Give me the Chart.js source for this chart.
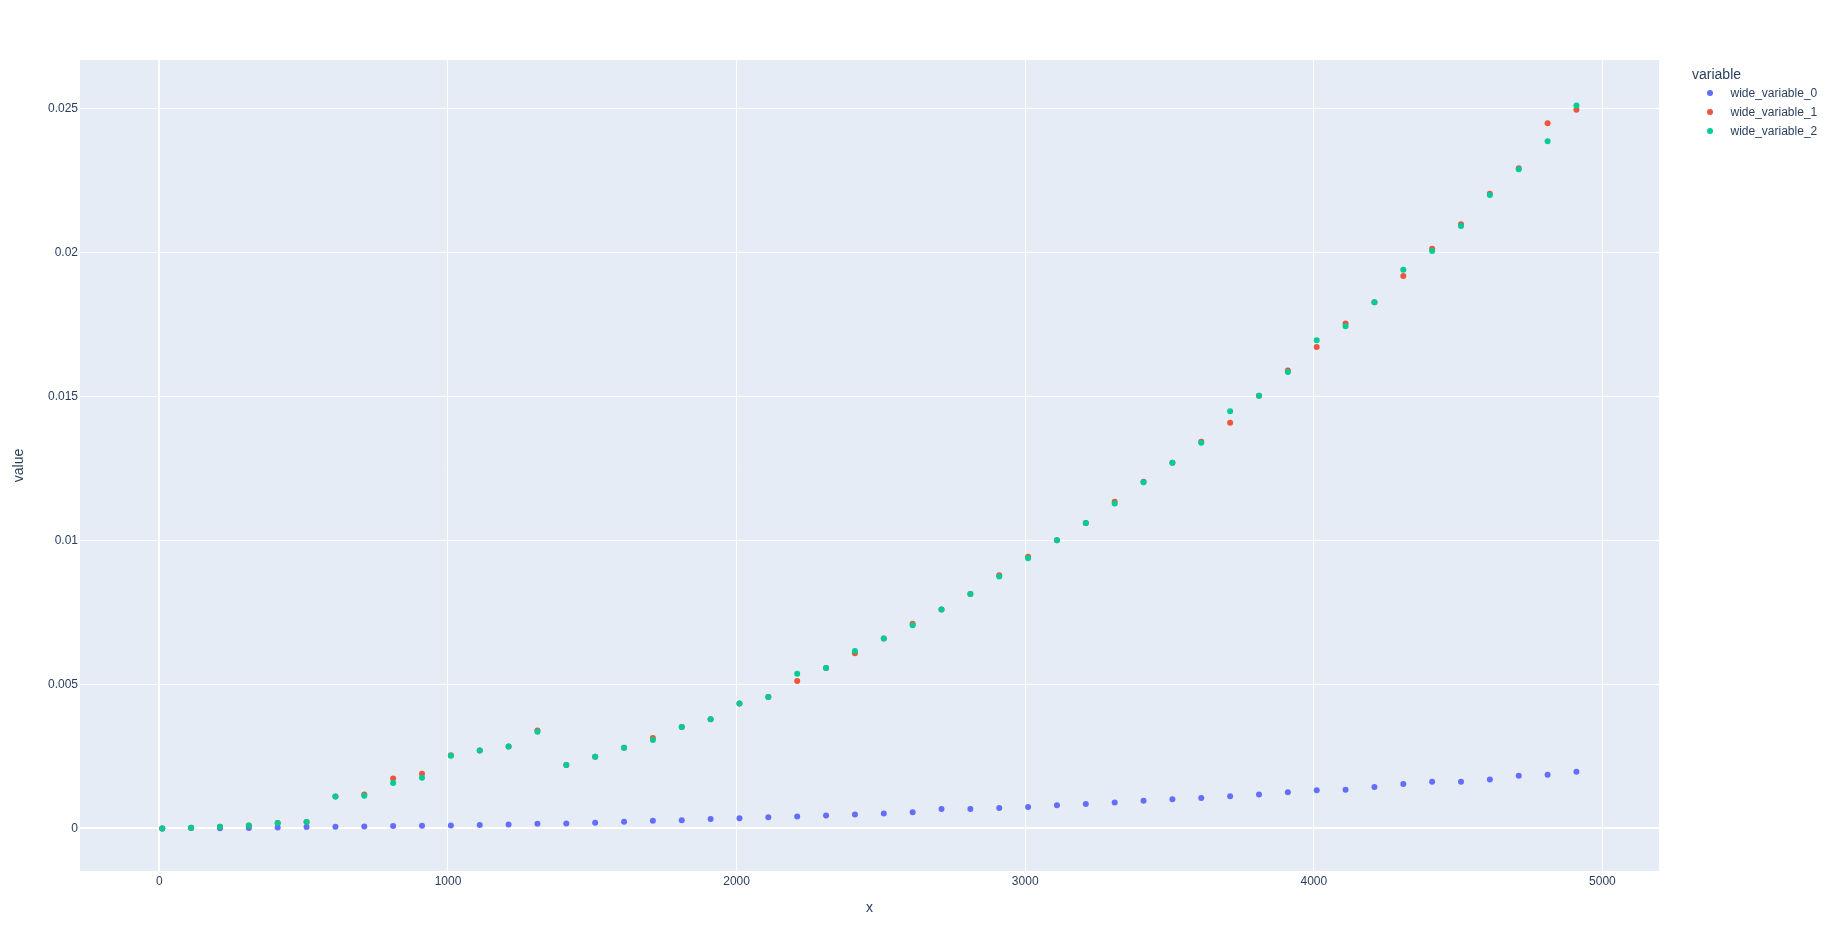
<!DOCTYPE html>
<html lang="en">
<head>
    <meta charset="UTF-8">
    <script src="https://cdn.jsdelivr.net/npm/chart.js@4.4.1/dist/chart.umd.min.js"></script>
    <style>
        body {
            margin: 0;
            background: #fff;
        }

        .chart-wrap {
            position: relative;
            width: 1836px;
            height: 952px;
        }

        .legend {
            position: absolute;
            left: 1692px;
            top: 64px;
            font-family: "Liberation Sans", Arial, sans-serif;
            color: #2a3f5f;
        }

        .legend-title {
            font-size: 14px;
            line-height: 20px;
            height: 20px;
            white-space: nowrap;
        }

        .legend-item {
            position: relative;
            font-size: 12px;
            height: 18.8px;
            line-height: 18.8px;
            padding-left: 38.5px;
            white-space: nowrap;
        }

        .legend-item .dot {
            position: absolute;
            left: 15.3px;
            top: 6.4px;
            width: 6px;
            height: 6px;
            border-radius: 50%;
        }
    </style>
    <title>value vs x</title>
</head>
<body>
    <div class="chart-wrap">
        <canvas id="chartCanvas"></canvas>
        <div class="legend" id="legend">
            <div class="legend-title">variable</div>
        </div>
    </div>

    <script>
        // x positions shared by all three series
        const xValues = [
            10, 110, 210, 310, 410, 510, 610, 710, 810, 910,
            1010, 1110, 1210, 1310, 1410, 1510, 1610, 1710, 1810, 1910,
            2010, 2110, 2210, 2310, 2410, 2510, 2610, 2710, 2810, 2910,
            3010, 3110, 3210, 3310, 3410, 3510, 3610, 3710, 3810, 3910,
            4010, 4110, 4210, 4310, 4410, 4510, 4610, 4710, 4810, 4910
        ];

        const wideVariable0 = [
            0.000000, 0.000010, 0.000008, 0.000012, 0.000035, 0.000046, 0.000058, 0.000062, 0.000081, 0.000090,
            0.000104, 0.000116, 0.000139, 0.000162, 0.000174, 0.000197, 0.000231, 0.000266, 0.000280, 0.000322,
            0.000356, 0.000390, 0.000412, 0.000448, 0.000484, 0.000520, 0.000562, 0.000670, 0.000670, 0.000705,
            0.000740, 0.000800, 0.000849, 0.000900, 0.000957, 0.001014, 0.001056, 0.001113, 0.001180, 0.001252,
            0.001325, 0.001345, 0.001435, 0.001539, 0.001620, 0.001620, 0.001701, 0.001829, 0.001863, 0.001968
        ];

        const wideVariable1 = [
            0.000000, 0.000023, 0.000058, 0.000104, 0.000185, 0.000220, 0.001111, 0.001181, 0.001736, 0.001898,
            0.002540, 0.002708, 0.002847, 0.003403, 0.002199, 0.002488, 0.002801, 0.003137, 0.003519, 0.003790,
            0.004340, 0.004565, 0.005116, 0.005567, 0.006080, 0.006594, 0.007105, 0.007602, 0.008141, 0.008795,
            0.009432, 0.010008, 0.010609, 0.011343, 0.012040, 0.012697, 0.013431, 0.014093, 0.015032, 0.015902,
            0.016724, 0.017534, 0.018275, 0.019188, 0.020138, 0.020983, 0.022048, 0.022928, 0.024490, 0.024963
        ];

        const wideVariable2 = [
            0.000000, 0.000023, 0.000058, 0.000104, 0.000185, 0.000220, 0.001111, 0.001134, 0.001574, 0.001759,
            0.002523, 0.002708, 0.002847, 0.003356, 0.002199, 0.002488, 0.002801, 0.003067, 0.003519, 0.003790,
            0.004335, 0.004565, 0.005375, 0.005567, 0.006160, 0.006594, 0.007060, 0.007602, 0.008141, 0.008750,
            0.009380, 0.010008, 0.010609, 0.011287, 0.012020, 0.012697, 0.013394, 0.014487, 0.015032, 0.015856,
            0.016952, 0.017440, 0.018275, 0.019408, 0.020057, 0.020925, 0.022002, 0.022893, 0.023865, 0.025113
        ];

        const seriesNames = ['wide_variable_0', 'wide_variable_1', 'wide_variable_2'];
        const seriesValues = [wideVariable0, wideVariable1, wideVariable2];
        const seriesColors = ['#636efa', '#EF553B', '#00cc96'];

        const xTicks = [0, 1000, 2000, 3000, 4000, 5000];
        const xTickLabels = ['0', '1000', '2000', '3000', '4000', '5000'];
        const yTicks = [0, 0.005, 0.01, 0.015, 0.02, 0.025];
        const yTickLabels = ['0', '0.005', '0.01', '0.015', '0.02', '0.025'];

        const textColor = '#2a3f5f';
        Chart.defaults.font.family = '"Liberation Sans", Arial, sans-serif';
        Chart.defaults.color = textColor;

        // plotly-like light blue plot area
        const plotBackground = {
            id: 'plotBackground',
            beforeDraw(chart) {
                const { ctx, chartArea } = chart;
                ctx.save();
                ctx.fillStyle = '#E5ECF6';
                ctx.fillRect(chartArea.left, chartArea.top,
                    chartArea.right - chartArea.left, chartArea.bottom - chartArea.top);
                ctx.restore();
            }
        };

        const zeroWide = (c) => (c.tick && c.tick.value === 0 ? 2 : 1);

        const datasets = seriesNames.map((name, s) => ({
            label: name,
            data: xValues.map((x, i) => ({ x: x, y: seriesValues[s][i] })),
            backgroundColor: seriesColors[s],
            borderColor: seriesColors[s],
            borderWidth: 0,
            pointRadius: 3,
            pointHoverRadius: 3,
            order: seriesNames.length - s
        }));

        const ctx = document.getElementById('chartCanvas').getContext('2d');
        new Chart(ctx, {
            type: 'scatter',
            data: { datasets: datasets },
            options: {
                responsive: true,
                maintainAspectRatio: false,
                animation: false,
                devicePixelRatio: 1,
                layout: {
                    padding: { top: 60, right: 177, bottom: 0, left: 0 }
                },
                plugins: {
                    legend: { display: false },
                    tooltip: { enabled: false }
                },
                scales: {
                    x: {
                        type: 'linear',
                        min: -275,
                        max: 5196,
                        afterBuildTicks: (scale) => { scale.ticks = xTicks.map(v => ({ value: v })); },
                        afterFit: (scale) => { scale.height = 81; },
                        grid: { color: '#ffffff', lineWidth: zeroWide, drawTicks: false },
                        border: { display: false },
                        ticks: {
                            padding: 3,
                            maxRotation: 0,
                            autoSkip: false,
                            font: { size: 12 },
                            callback: (v, i) => xTickLabels[i]
                        },
                        title: {
                            display: true,
                            text: 'x',
                            font: { size: 14 },
                            padding: { top: 0, bottom: 35 }
                        }
                    },
                    y: {
                        type: 'linear',
                        min: -0.00148,
                        max: 0.02669,
                        afterBuildTicks: (scale) => { scale.ticks = yTicks.map(v => ({ value: v })); },
                        afterFit: (scale) => { scale.width = 80; },
                        grid: { color: '#ffffff', lineWidth: zeroWide, drawTicks: false },
                        border: { display: false },
                        ticks: {
                            padding: 2,
                            autoSkip: false,
                            font: { size: 12 },
                            callback: (v, i) => yTickLabels[i]
                        },
                        title: {
                            display: true,
                            text: 'value',
                            font: { size: 14 },
                            padding: { top: 11, bottom: 0 }
                        }
                    }
                }
            },
            plugins: [plotBackground]
        });

        // legend on the right, like plotly's
        const legend = document.getElementById('legend');
        seriesNames.forEach((name, s) => {
            const item = document.createElement('div');
            item.className = 'legend-item';
            const dot = document.createElement('span');
            dot.className = 'dot';
            dot.style.background = seriesColors[s];
            item.appendChild(dot);
            item.appendChild(document.createTextNode(name));
            legend.appendChild(item);
        });
    </script>
</body>
</html>
